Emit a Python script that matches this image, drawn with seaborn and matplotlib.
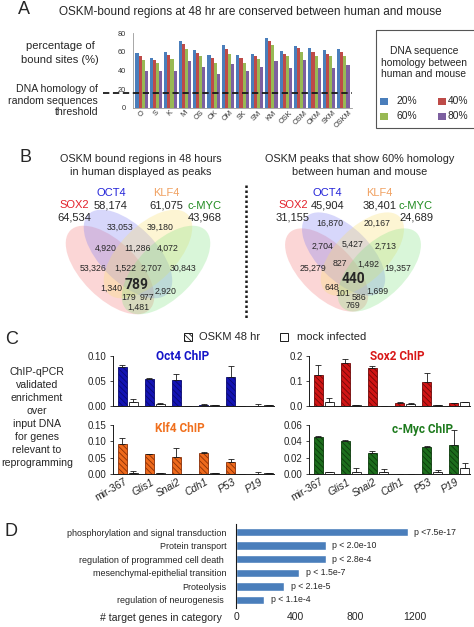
import numpy as np
import pandas as pd
import matplotlib
matplotlib.use("Agg")
import matplotlib.pyplot as plt
import matplotlib.transforms as mtransforms
from matplotlib.patches import Ellipse, Rectangle
import seaborn as sns

# ---------------- data ----------------
# A: percentage of bound sites conserved at each homology cut-off
combos = ["O", "S", "K", "M", "OS", "OK", "OM", "SK", "SM", "KM",
          "OSK", "OSM", "OKM", "SKM", "OSKM"]
homology = ["20%", "40%", "60%", "80%"]
pct_20 = [59, 53, 60, 71, 62, 57, 67, 57, 58, 75, 61, 66, 64, 62, 63]
pct_40 = [56, 51, 57, 68, 59, 53, 63, 53, 56, 72, 58, 64, 60, 58, 60]
pct_60 = [51, 48, 52, 63, 55, 48, 58, 48, 52, 67, 55, 60, 55, 56, 56]
pct_80 = [40, 39, 39, 50, 44, 36, 47, 39, 44, 50, 43, 51, 43, 43, 46]
random_threshold = 16

# B: venn counts
venn_names = ["SOX2", "OCT4", "KLF4", "c-MYC"]
totals_all = ["64,534", "58,174", "61,075", "43,968"]
totals_60 = ["31,155", "45,904", "38,401", "24,689"]
regions = ["O", "K", "SO", "OK", "KM", "S", "SOK", "OKM", "M",
           "SOKM", "SK", "OM", "SKM", "SOM", "SM"]
counts_all = [33053, 39180, 4920, 11286, 4072, 53326, 1522, 2707, 30843,
              789, 1340, 2920, 179, 977, 1481]
counts_60 = [16870, 20167, 2704, 5427, 2713, 25279, 827, 1492, 19357,
             440, 648, 1699, 101, 586, 769]

# C: ChIP-qPCR enrichment over input
genes = ["mir-367", "Glis1", "Snai2", "Cdh1", "P53", "P19"]
oct4_oskm = [0.079, 0.055, 0.053, 0.003, 0.059, 0.001]
oct4_oskm_err = [0.004, 0.002, 0.011, 0.002, 0.021, 0.003]
oct4_mock = [0.008, 0.004, 0.001, 0.002, 0.0005, 0.002]
oct4_mock_err = [0.007, 0.002, 0.0, 0.001, 0.0, 0.001]
sox2_oskm = [0.123, 0.172, 0.152, 0.011, 0.098, 0.012]
sox2_oskm_err = [0.043, 0.015, 0.010, 0.006, 0.035, 0.002]
sox2_mock = [0.017, 0.003, 0.001, 0.008, 0.003, 0.015]
sox2_mock_err = [0.016, 0.002, 0.0, 0.005, 0.002, 0.002]
klf4_oskm = [0.093, 0.061, 0.053, 0.064, 0.036, 0.001]
klf4_oskm_err = [0.016, 0.001, 0.026, 0.002, 0.010, 0.006]
klf4_mock = [0.004, 0.003, 0.001, 0.003, 0.0003, 0.002]
klf4_mock_err = [0.005, 0.0, 0.0, 0.0, 0.0, 0.001]
myc_oskm = [0.045, 0.041, 0.026, 0.0004, 0.033, 0.035]
myc_oskm_err = [0.002, 0.001, 0.002, 0.0, 0.001, 0.019]
myc_mock = [0.002, 0.002, 0.003, 0.0003, 0.003, 0.007]
myc_mock_err = [0.0, 0.005, 0.003, 0.0, 0.002, 0.006]

# D: GO categories
go_terms = ["phosphorylation and signal transduction", "Protein transport",
            "regulation of programmed cell death ", "mesenchymal-epithelial transition",
            "Proteolysis", "regulation of neurogenesis "]
go_genes = [1150, 600, 600, 420, 320, 190]
go_p = ["p <7.5e-17", "p < 2.0e-10", "p < 2.8e-4", "p < 1.5e-7", "p < 2.1e-5", "p < 1.1e-4"]

# ---------------- figure ----------------
sns.set_theme(style="white")
plt.rcParams["font.family"] = ["Liberation Sans", "DejaVu Sans"]
plt.rcParams["hatch.linewidth"] = 0.6

W, H = 474, 627
fig = plt.figure(figsize=(W / 100, H / 100), dpi=100)


def px_axes(x0, y0, x1, y1):
    return fig.add_axes([x0 / W, 1 - y1 / H, (x1 - x0) / W, (y1 - y0) / H])


# ---- A ----
hom_colors = ["#4a7ebb", "#be4b48", "#98b954", "#7d60a0"]
dfA = pd.DataFrame({"20%": pct_20, "40%": pct_40, "60%": pct_60, "80%": pct_80}, index=combos)
dfA = dfA.reset_index(names="combo").melt(id_vars="combo", var_name="homology", value_name="pct")
axA = px_axes(133, 33, 352, 108)
sns.barplot(data=dfA, x="combo", y="pct", hue="homology", palette=hom_colors,
            width=0.86, saturation=1, ax=axA, legend=False, edgecolor="none")
axA.set_xlim(-0.6, 14.6)
axA.set_ylim(0, 80)
axA.set_yticks([0, 20, 40, 60, 80])
axA.set_xlabel("")
axA.set_ylabel("")
axA.tick_params(axis="y", labelsize=5.3, length=2, width=0.5, color="#888888", labelcolor="#333333", pad=3)
axA.tick_params(axis="x", labelsize=5.3, length=0, labelcolor="#333333", pad=1)
plt.setp(axA.get_xticklabels(), rotation=45, ha="center", va="top")
for side in ["top", "right"]:
    axA.spines[side].set_visible(False)
for side in ["left", "bottom"]:
    axA.spines[side].set_color("#999999")
    axA.spines[side].set_linewidth(0.6)
axA.plot([-2.7, 14.6], [random_threshold] * 2, ls=(0, (3.5, 2)), color="k", lw=1.3, clip_on=False, zorder=5)

HATCH = "\\\\\\\\\\\\"


# ---- C ----
def chip_panel(ax, oskm, oskm_err, mock, mock_err, color, dark, yticks, labels, bottom):
    d = pd.DataFrame({"gene": genes * 2,
                      "cond": ["OSKM 48 hr"] * len(genes) + ["mock infected"] * len(genes),
                      "val": oskm + mock})
    sns.barplot(data=d, x="gene", y="val", hue="cond", palette=[color, "white"],
                width=0.82, gap=0.18, saturation=1, ax=ax, legend=False,
                edgecolor="k", linewidth=0.6)
    bars = list(ax.containers[:2])
    for p in bars[0]:
        p.set_hatch(HATCH)
        p.set_edgecolor(dark)
    for cont, err in zip(bars, [oskm_err, mock_err]):
        xs = [p.get_x() + p.get_width() / 2 for p in cont]
        hs = [p.get_height() for p in cont]
        ax.errorbar(xs, hs, yerr=[np.zeros(len(err)), err], fmt="none", ecolor="k",
                    elinewidth=0.6, capsize=2, capthick=0.6)
    ax.set_xlim(-0.55, 5.4)
    ax.set_ylim(0, yticks[-1])
    ax.set_yticks(yticks)
    ax.set_yticklabels(labels)
    ax.set_xlabel("")
    ax.set_ylabel("")
    ax.tick_params(axis="y", labelsize=7, length=2.5, width=0.6, pad=2, left=True)
    ax.tick_params(axis="x", length=0, pad=2)
    if bottom:
        ax.set_xticks(range(len(genes)))
        ax.set_xticklabels(genes, fontsize=7.5, rotation=30, ha="right", rotation_mode="anchor")
        shift = mtransforms.ScaledTranslation(-4 / 100, 0, fig.dpi_scale_trans)
        for i, t in enumerate(ax.get_xticklabels()):
            t.set_transform(t.get_transform() + shift)
            t.set_fontstyle("italic" if i > 0 else "normal")
    else:
        ax.set_xticklabels([])
    for side in ["top", "right"]:
        ax.spines[side].set_visible(False)
    for side in ["left", "bottom"]:
        ax.spines[side].set_color("k")
        ax.spines[side].set_linewidth(0.7)


axO = px_axes(113, 356, 274, 406)
chip_panel(axO, oct4_oskm, oct4_oskm_err, oct4_mock, oct4_mock_err, "#1414b4", "#0a0a70",
           [0, 0.05, 0.10], ["0.00", "0.05", "0.10"], False)
axS = px_axes(309, 356, 470, 406)
chip_panel(axS, sox2_oskm, sox2_oskm_err, sox2_mock, sox2_mock_err, "#d01515", "#700808",
           [0, 0.1, 0.2], ["0.0", "0.1", "0.2"], False)
axK = px_axes(113, 425, 274, 474)
chip_panel(axK, klf4_oskm, klf4_oskm_err, klf4_mock, klf4_mock_err, "#ee6a1c", "#8a3008",
           [0, 0.05, 0.10, 0.15], ["0.00", "0.05", "0.10", "0.15"], True)
axM = px_axes(309, 425, 470, 474)
chip_panel(axM, myc_oskm, myc_oskm_err, myc_mock, myc_mock_err, "#1d6e1d", "#0b3a0b",
           [0, 0.02, 0.04, 0.06], ["0.00", "0.02", "0.04", "0.06"], True)

# ---- D ----
axD = px_axes(236, 524, 415, 608)
sns.barplot(x=go_genes, y=go_terms, orient="h", color="#4a7ebb", saturation=1,
            width=0.62, ax=axD)
axD.set_xlim(0, 1200)
axD.set_xticks([0, 400, 800, 1200])
axD.set_ylim(5.6, -0.6)
axD.tick_params(axis="y", labelsize=6.5, length=0, pad=7)
axD.tick_params(axis="x", labelsize=7.5, length=0, pad=3)
for side in ["top", "right", "bottom"]:
    axD.spines[side].set_visible(False)
axD.spines["left"].set_color("k")
axD.spines["left"].set_linewidth(0.8)
for i, (v, p) in enumerate(zip(go_genes, go_p)):
    axD.annotate(p, (v, i), xytext=(5, 0), textcoords="offset points",
                 va="center", ha="left", fontsize=6.3)

# ---- overlay for text, venns, legends ----
ov = fig.add_axes([0, 0, 1, 1])
ov.set_xlim(0, W)
ov.set_ylim(H, 0)
ov.axis("off")


def txt(x, y, s, size=8, ha="center", **kw):
    kw.setdefault("family", "Liberation Sans")
    ov.text(x, y, s, fontsize=size, ha=ha, va="center", fontstyle="normal", **kw)


# panel letters
for letter, (x, y) in zip("ABCD", [(18, 9), (20, 158), (5, 340), (5, 531)]):
    txt(x, y, letter, size=13, ha="left")

# A texts
txt(250, 12, "OSKM-bound regions at 48 hr are conserved between human and mouse", size=8.5)
txt(60, 46, "percentage of", size=8)
txt(60, 60, "bound sites (%)", size=8)
for y, s in zip([89, 101, 112], ["DNA homology of", "random sequences", "threshold"]):
    txt(98, y, s, size=7.6, ha="right")
ov.add_patch(Rectangle((376, 30), 100, 98, fill=False, edgecolor="#555555", lw=0.8))
for y, s in zip([51, 63, 74], ["DNA sequence", "homology between", "human and mouse"]):
    txt(424, y, s, size=7.4)
for (x, y), col, lab in zip([(380, 101), (438, 101), (380, 116), (438, 116)], hom_colors, homology):
    ov.add_patch(Rectangle((x, y - 3.5), 8, 7, facecolor=col, edgecolor="none"))
    txt(x + 17 if x < 400 else x + 10, y, lab, size=7.4, ha="left")

# B titles
txt(141, 159, "OSKM bound regions in 48 hours", size=7.8)
txt(141, 172, "in human displayed as peaks", size=7.8)
txt(360, 159, "OSKM peaks that show 60% homology", size=7.8)
txt(360, 172, "between human and mouse", size=7.8)
ov.plot([246, 246], [185, 318], ls=(0, (1, 1)), lw=1.8, color="k")

venn_geo = [(-28, 8, 45), (-10, -8, 45), (10, -8, -45), (28, 8, -45)]
venn_fill = ["#f47a7a", "#7c7cf4", "#f9e070", "#84e484"]
name_colors = ["#e3212b", "#2323d8", "#f0a060", "#1f8a1f"]
name_off = [(-64, -57), (-27, -69), (28, -69), (67, -56)]
off_all = [(-18, -35), (22, -35), (-32, -14), (0, -14), (30, -14), (-45, 6), (-13, 6),
           (14, 6), (45, 6), (-1, 23), (-27, 26), (28, 29), (-9, 35), (9, 35), (0, 45)]
off_60 = [(-23, -39), (24, -39), (-30, -16), (0, -18), (33, -16), (-40, 6), (-13, 2),
          (15, 2), (45, 6), (0, 17), (-21, 25), (24, 29), (-10, 32), (6, 35), (0, 43)]


def venn4(cx, cy, sx, totals, counts, offs):
    for (dx, dy, ang), col in zip(venn_geo, venn_fill):
        ov.add_patch(Ellipse((cx + dx * sx, cy + dy), 112 * sx, 56 * sx, angle=ang,
                             facecolor=col, alpha=0.3, edgecolor="none"))
    for name, tot, (dx, dy), col in zip(venn_names, totals, name_off, name_colors):
        txt(cx + dx * sx, cy + dy, name, size=8, color=col)
        txt(cx + dx * sx, cy + dy + 12, tot, size=8)
    for reg, n, (dx, dy) in zip(regions, counts, offs):
        if reg == "SOKM":
            txt(cx + dx, cy + dy, f"{n:,}", size=10, fontweight="bold", family="Roboto")
        else:
            txt(cx + dx, cy + dy, f"{n:,}", size=6.3)


venn4(138, 262, 1.0, totals_all, counts_all, off_all)
venn4(353, 262, 0.94, totals_60, counts_60, off_60)

# C texts
ov.add_patch(Rectangle((184, 333), 8, 8, facecolor="white", edgecolor="k", hatch=HATCH, lw=0.7))
txt(199, 337, "OSKM 48 hr", size=8, ha="left")
ov.add_patch(Rectangle((280, 333), 8, 8, facecolor="white", edgecolor="k", lw=0.7))
txt(297, 337, "mock infected", size=8, ha="left")
left_lines = ["ChIP-qPCR", "validated", "enrichment", "over", "input DNA", "for genes",
              "relevant to", "reprogramming"]
for i, s in enumerate(left_lines):
    txt(37, 372 + 13 * i, s, size=7.6)
for (x, y), s, col in zip([(183, 356), (397, 356), (180, 429), (423, 429)],
                          ["Oct4 ChIP", "Sox2 ChIP", "Klf4 ChIP", "c-Myc ChIP"],
                          ["#1414c8", "#d81818", "#f0701e", "#1d7a1d"]):
    txt(x, y, s, size=8.5, color=col, fontweight="bold", family="Roboto")

# D x label
txt(222, 618, "# target genes in category", size=7.6, ha="right")

fig.savefig("out.png", dpi=100)
